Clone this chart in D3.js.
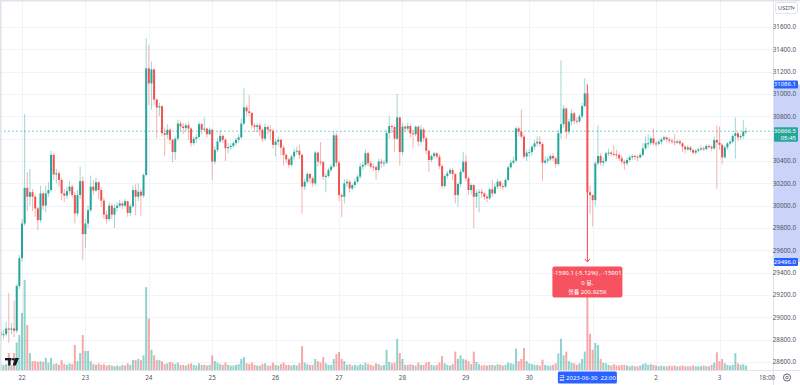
<!DOCTYPE html>
<html><head><meta charset="utf-8">
<script src="https://cdn.jsdelivr.net/npm/d3@7"></script>
<style>html,body{margin:0;padding:0;background:#fff;}svg{display:block;font-family:"Noto Sans","Noto Sans CJK KR",sans-serif;}</style>
</head><body>
<svg id="c" width="800" height="385"></svg>
<script>
// ---------- DATA (hourly candles, KST) ----------
const startTime = Date.UTC(2023, 5, 21, 16);   // first candle: 2023-06-21 16:00
const firstOpen = 28870;
const closes = [28840,28850,28900,28890,28900,28880,29280,29530,29840,30160,30080,30120,30080,29975,29870,30110,30000,30110,30140,30455,30280,30290,30230,30110,30090,30130,30170,30095,29930,30095,30220,29745,29840,29960,30170,30135,30210,30140,30045,29920,29880,30000,29920,29980,30000,30020,30000,30040,29935,29995,30140,30080,30125,30090,30275,31230,31095,31220,30950,30880,30890,30650,30635,30680,30590,30480,30600,30735,30710,30695,30720,30690,30560,30600,30615,30730,30680,30690,30640,30680,30395,30500,30575,30625,30590,30515,30525,30535,30560,30590,30612,30735,30880,30845,30830,30720,30705,30720,30680,30600,30705,30680,30670,30545,30573,30590,30520,30455,30415,30365,30440,30483,30492,30455,30170,30215,30284,30245,30200,30475,30395,30390,30260,30266,30320,30350,30630,30385,30095,30080,30200,30215,30155,30185,30215,30260,30350,30365,30470,30380,30350,30345,30320,30395,30380,30385,30650,30713,30705,30600,30790,30480,30707,30690,30713,30648,30640,30707,30573,30683,30603,30492,30409,30445,30469,30439,30355,30176,30266,30289,30319,30283,30095,30194,30304,30394,30245,30140,30185,30080,30116,30125,30110,30080,30066,30146,30110,30170,30215,30176,30170,30230,30343,30385,30403,30692,30663,30618,30439,30475,30480,30528,30558,30573,30552,30385,30403,30415,30445,30424,30373,30648,30730,30870,30663,30752,30827,30760,30755,30800,30892,31005,30120,30095,30050,30379,30445,30385,30400,30469,30475,30463,30460,30454,30424,30394,30379,30409,30433,30445,30439,30433,30454,30513,30558,30560,30603,30558,30555,30573,30594,30612,30594,30582,30573,30564,30576,30558,30528,30504,30522,30498,30475,30492,30504,30513,30505,30534,30528,30513,30588,30564,30545,30433,30522,30558,30573,30624,30648,30612,30624,30663,30666.5];
const highs = [28900,28890,28960,29220,28950,29150,29300,29560,29880,30820,30300,30330,30150,30100,29990,30180,30130,30180,30210,30490,30470,30330,30310,30250,30150,30170,30220,30190,30120,30140,30350,30260,29880,30000,30270,30230,30250,30220,30160,30070,29950,30030,30020,30010,30030,30050,30040,30060,30040,30020,30180,30190,30200,30150,30290,31500,31440,31290,31230,30960,30920,30900,30700,30730,30700,30600,30620,30770,30760,30740,30740,30750,30700,30620,30640,30750,30740,30790,30700,30700,30690,30530,30610,30680,30640,30610,30560,30560,30580,30610,30640,30780,31050,30900,30990,30840,30740,30740,30740,30700,30740,30720,30720,30690,30600,30620,30600,30540,30470,30430,30460,30510,30530,30545,30470,30240,30300,30290,30260,30490,30480,30570,30400,30290,30340,30370,30660,30650,30400,30110,30240,30240,30230,30200,30240,30280,30380,30390,30500,30480,30400,30380,30360,30420,30420,30410,30680,30800,30730,30720,31000,30800,30740,30720,30740,30730,30680,30720,30720,30720,30700,30620,30500,30460,30480,30480,30460,30370,30280,30310,30340,30340,30290,30210,30330,30480,30450,30260,30200,30190,30140,30150,30150,30120,30100,30160,30230,30200,30240,30230,30200,30250,30360,30410,30440,30710,30710,30860,30640,30500,30510,30540,30590,30620,30620,30570,30440,30440,30460,30470,30440,30680,31300,30900,30880,30780,30860,30840,30790,30820,30920,31140,31086.1,30180,30100,30400,30720,30470,30430,30480,30510,30490,30540,30500,30470,30450,30410,30430,30450,30460,30460,30450,30470,30560,30620,30640,30620,30690,30580,30590,30610,30630,30620,30610,30600,30640,30590,30590,30570,30540,30540,30530,30510,30510,30520,30540,30530,30550,30550,30540,30620,30720,30710,30560,30540,30570,30590,30640,30790,30660,30640,30765,30700];
const lows = [28800,28810,28830,28770,28850,28820,28860,29250,29500,29820,29950,30000,29950,29900,29780,29850,29960,29940,30080,30120,30230,30200,30170,30050,30030,30060,30100,30070,29840,29900,30060,29510,29620,29800,29940,30100,30120,30060,29990,29880,29840,29860,29880,29800,29950,29980,29970,29990,29900,29905,29980,29915,30040,29910,30070,30260,30900,30860,30900,30600,30800,30620,30440,30600,30550,30390,30410,30580,30670,30640,30660,30590,30530,30540,30560,30600,30640,30660,30610,30630,30230,30370,30480,30560,30560,30400,30470,30500,30520,30540,30560,30600,30720,30800,30800,30690,30660,30660,30620,30570,30580,30640,30590,30510,30440,30540,30450,30360,30380,30340,30350,30410,30460,30420,29930,30140,30200,30200,30170,30180,30350,30360,30230,30120,30250,30300,30340,30350,30040,29900,30020,30170,30120,30130,30160,30200,30240,30320,30350,30350,30330,30310,30230,30300,30340,30350,30370,30600,30650,30480,30590,30360,30450,30660,30670,30610,30520,30620,30530,30540,30570,30460,30300,30390,30420,30420,30330,30150,30160,30240,30280,30230,30020,29990,30170,30290,30220,30100,30100,29800,29980,29940,30070,30050,30030,30050,30080,30100,30150,30150,30140,30160,30220,30330,30370,30390,30620,30600,30420,30400,30440,30450,30500,30530,30530,30220,30370,30380,30400,30400,30340,30360,30600,30700,30600,30640,30720,30730,30730,30740,30780,30880,29496,29930,29815,30000,30360,30360,30350,30380,30440,30440,30440,30420,30400,30370,30320,30360,30390,30410,30410,30400,30420,30440,30500,30520,30540,30540,30530,30540,30550,30580,30570,30560,30550,30540,30550,30540,30480,30470,30490,30480,30460,30460,30480,30490,30490,30500,30510,30490,30500,30150,30500,30370,30420,30500,30540,30560,30420,30580,30590,30600,30640];
const volumesK = [15,14,16,46,12,46,75,95,155,245,122,46,24,24,22,24,22,33,20,33,16,18,14,27,16,14,18,16,68,24,46,95,52,52,24,16,14,18,14,16,12,14,12,10,12,10,14,12,18,14,27,27,30,27,40,225,140,55,40,27,27,24,16,18,22,20,16,20,14,14,12,16,18,14,12,18,14,14,12,14,40,24,20,16,14,20,14,12,12,14,16,30,35,18,16,20,14,12,12,16,18,12,12,20,14,12,16,20,14,14,12,14,12,18,65,20,16,14,14,30,24,20,35,18,14,14,30,43,49,30,24,14,16,12,14,12,16,14,20,16,14,12,18,16,12,14,55,22,18,20,85,46,30,14,14,16,14,12,20,14,14,20,22,14,12,14,20,38,18,14,12,16,50,30,40,30,28,24,16,50,22,16,12,14,12,14,14,12,16,14,12,14,20,18,16,58,24,30,60,24,18,16,14,14,12,28,14,12,12,14,18,45,85,40,50,24,20,18,14,18,30,50,200.925,98,55,74,68,30,20,18,14,12,16,12,12,14,14,12,10,12,10,10,12,16,18,14,16,14,12,10,12,10,10,12,10,12,10,10,12,10,10,10,12,10,10,10,12,10,10,14,20,48,24,30,18,14,12,14,46,18,14,16,12];
const priceTicks = [28600,28800,29000,29200,29400,29600,29800,30000,30200,30400,30600,30800,31000,31200,31400,31600];
const dayTickStart = Date.UTC(2023,5,22), dayTickEnd = Date.UTC(2023,6,4);
const extraTick = {time: Date.UTC(2023,6,3,18), label: "18:00"};
const lastPrice = 30666.5, countdown = "05:45";
const measureIndex = 222, measureFrom = 31086.1, measureTo = 29496.0;
const measureLines = ["-1590.1 (-5.12%) , -15901", "0 봉,", "볼륨 200.925K"];
const crossLabel = "금 2023-06-30  22:00";
const currency = "USDT";

// ---------- BUILD ----------
const HOUR = 3600000;
const candles = closes.map((c, i) => ({
  t: new Date(startTime + i * HOUR),
  o: i === 0 ? firstOpen : closes[i - 1],
  h: highs[i], l: lows[i], c: c, v: volumesK[i]
}));

const W = 800, H = 385, axisX = 773, axisY = 370;
const svg = d3.select("#c");
const x = d3.scaleUtc().domain([new Date(Date.UTC(2023,5,22)), new Date(Date.UTC(2023,6,3))]).range([22, 719.5]);
const y = d3.scaleLinear().domain([28600, 31600]).range([362, 27]);
const yv = d3.scaleLinear().domain([0, 250]).range([axisY, 278]);

const UP = "#26a69a", DOWN = "#ef5350";
const UPW = "rgba(38,166,154,0.45)", DOWNW = "rgba(239,83,80,0.45)";
const UPV = "rgba(38,166,154,0.5)", DOWNV = "rgba(239,83,80,0.5)";

svg.append("rect").attr("width", W).attr("height", H).attr("fill", "#fff");
svg.append("defs").append("clipPath").attr("id", "plot")
  .append("rect").attr("x", 0).attr("y", 0).attr("width", axisX).attr("height", axisY);

const plot = svg.append("g").attr("clip-path", "url(#plot)");

// grid
const dayTicks = d3.utcDay.range(new Date(dayTickStart), new Date(dayTickEnd));
plot.append("g").selectAll("line").data(priceTicks).join("line")
  .attr("x1", 0).attr("x2", axisX).attr("y1", d => Math.round(y(d)) + 0.5).attr("y2", d => Math.round(y(d)) + 0.5)
  .attr("stroke", "#f0f3fa").attr("stroke-width", 1);
plot.append("g").selectAll("line").data(dayTicks).join("line")
  .attr("y1", 0).attr("y2", axisY).attr("x1", d => Math.round(x(d)) + 0.5).attr("x2", d => Math.round(x(d)) + 0.5)
  .attr("stroke", "#f0f3fa").attr("stroke-width", 1);

// volume
const bw = 2;
plot.append("g").selectAll("rect").data(candles).join("rect")
  .attr("x", d => x(d.t) - bw / 2).attr("width", bw)
  .attr("y", d => yv(d.v)).attr("height", d => axisY - yv(d.v))
  .attr("fill", d => d.c >= d.o ? UPV : DOWNV);

// last price dashed line
plot.append("line").attr("x1", 0).attr("x2", axisX)
  .attr("y1", y(lastPrice)).attr("y2", y(lastPrice))
  .attr("stroke", "rgba(38,166,154,0.55)").attr("stroke-width", 1).attr("stroke-dasharray", "2,2");

// wicks
plot.append("g").selectAll("line").data(candles).join("line")
  .attr("x1", d => x(d.t)).attr("x2", d => x(d.t))
  .attr("y1", d => y(d.h)).attr("y2", d => y(d.l))
  .attr("stroke", d => d.c >= d.o ? UPW : DOWNW).attr("stroke-width", 1);
// bodies
plot.append("g").selectAll("rect").data(candles).join("rect")
  .attr("x", d => x(d.t) - bw / 2).attr("width", bw)
  .attr("y", d => y(Math.max(d.o, d.c)))
  .attr("height", d => Math.max(1, Math.abs(y(d.o) - y(d.c))))
  .attr("fill", d => d.c >= d.o ? UP : DOWN);

// measure tool
const mx = x(candles[measureIndex].t);
const MC = "#f7525f";
plot.append("line").attr("x1", mx).attr("x2", mx).attr("y1", y(measureFrom)).attr("y2", y(measureTo))
  .attr("stroke", MC).attr("stroke-width", 1);
plot.append("path").attr("d", `M${mx - 2.5},${y(measureTo) - 3} L${mx},${y(measureTo)} L${mx + 2.5},${y(measureTo) - 3}`)
  .attr("fill", "none").attr("stroke", MC).attr("stroke-width", 1);
const tipTop = y(measureTo) + 4.5, tipW = 70, tipH = 31;
plot.append("rect").attr("x", mx - tipW / 2).attr("y", tipTop).attr("width", tipW).attr("height", tipH)
  .attr("rx", 2).attr("fill", MC);
plot.append("g").selectAll("text").data(measureLines).join("text")
  .attr("x", mx).attr("y", (d, i) => tipTop + 9 + i * 9.3)
  .attr("text-anchor", "middle").attr("font-size", 6).attr("fill", "#fff").text(d => d);

// TV logo
const logo = svg.append("g").attr("fill", "#131722");
logo.append("rect").attr("x", 5).attr("y", 358).attr("width", 6.5).attr("height", 2.4);
logo.append("rect").attr("x", 8.2).attr("y", 358).attr("width", 2.4).attr("height", 7.5);
logo.append("circle").attr("cx", 13.3).attr("cy", 359.3).attr("r", 1.3);
logo.append("path").attr("d", "M15.2,358 L19,358 L15.8,365.5 L12.6,365.5 Z");

// borders
svg.append("line").attr("x1", 0).attr("x2", W).attr("y1", 0.75).attr("y2", 0.75).attr("stroke", "#e0e3eb").attr("stroke-width", 1.5);
svg.append("line").attr("x1", 0.75).attr("x2", 0.75).attr("y1", 0).attr("y2", axisY).attr("stroke", "#e0e3eb").attr("stroke-width", 1.5);
svg.append("line").attr("x1", axisX + 0.5).attr("x2", axisX + 0.5).attr("y1", 0).attr("y2", H).attr("stroke", "#e0e3eb");
svg.append("line").attr("x1", 0).attr("x2", W).attr("y1", axisY + 0.5).attr("y2", axisY + 0.5).attr("stroke", "#e0e3eb");

// price axis
const ax = svg.append("g");
ax.append("rect").attr("x", axisX + 1).attr("y", y(measureFrom)).attr("width", W - axisX - 1)
  .attr("height", y(measureTo) - y(measureFrom)).attr("fill", "#c9d4f8");
// tick labels hidden where a badge sits (as the platform does)
const badgeRanges = [[y(measureFrom) - 5, y(measureFrom) + 5], [y(measureTo) - 5, y(measureTo) + 5], [y(lastPrice) - 6, y(lastPrice) + 12]];
const visibleTicks = priceTicks.filter(p => !badgeRanges.some(r => y(p) > r[0] && y(p) < r[1]));
ax.selectAll("text.pt").data(visibleTicks).join("text").attr("class", "pt")
  .attr("x", 796).attr("y", d => y(d) + 2.2).attr("text-anchor", "end")
  .attr("font-size", 6.3).attr("fill", "#50535e").text(d => d.toFixed(1));
function badge(val, fill, lines) {
  const cy = y(val);
  const h = lines.length === 1 ? 8 : 14.5;
  ax.append("rect").attr("x", axisX + 1).attr("y", cy - 4).attr("width", W - axisX - 3).attr("height", h)
    .attr("rx", 1).attr("fill", fill);
  lines.forEach((t, i) => ax.append("text").attr("x", 796).attr("y", cy + 2.1 + i * 6.8)
    .attr("text-anchor", "end").attr("font-size", 6).attr("fill", "#fff").text(t));
}
badge(measureFrom, "#2962ff", [measureFrom.toFixed(1)]);
badge(measureTo, "#2962ff", [measureTo.toFixed(1)]);
badge(lastPrice, UP, [lastPrice.toFixed(1), countdown]);

// currency box
ax.append("rect").attr("x", 775.5).attr("y", 2.5).attr("width", 22).attr("height", 11).attr("rx", 2)
  .attr("fill", "#fff").attr("stroke", "#e0e3eb");
ax.append("text").attr("x", 778).attr("y", 10.3).attr("font-size", 5.8).attr("fill", "#50535e").text(currency);
ax.append("path").attr("d", "M792,7.5 L795,7.5 L793.5,9.3 Z").attr("fill", "#50535e");

// time axis
const tx = svg.append("g");
const crossW = 59;
const timeTicks = dayTicks.map(d => ({time: d, label: d3.utcFormat("%-d")(d)}))
  .concat([{time: new Date(extraTick.time), label: extraTick.label}])
  .filter(d => Math.abs(x(d.time) - mx) > crossW / 2 + 4);
tx.selectAll("text").data(timeTicks).join("text")
  .attr("x", d => x(d.time)).attr("y", 380).attr("text-anchor", "middle")
  .attr("font-size", 6.3).attr("fill", "#50535e").text(d => d.label);
// crosshair date label
tx.append("rect").attr("x", mx - crossW / 2).attr("y", 371.5).attr("width", crossW).attr("height", 12).attr("rx", 1.5).attr("fill", "#2962ff");
tx.append("text").attr("x", mx).attr("y", 380).attr("text-anchor", "middle").attr("font-size", 6)
  .attr("fill", "#fff").attr("xml:space", "preserve").style("white-space", "pre").text(crossLabel);
// settings icon
tx.append("circle").attr("cx", 787).attr("cy", 377.5).attr("r", 3.6).attr("fill", "none").attr("stroke", "#50535e").attr("stroke-width", 0.9);
tx.append("circle").attr("cx", 787).attr("cy", 377.5).attr("r", 1.3).attr("fill", "none").attr("stroke", "#50535e").attr("stroke-width", 0.8);
</script>
</body></html>
